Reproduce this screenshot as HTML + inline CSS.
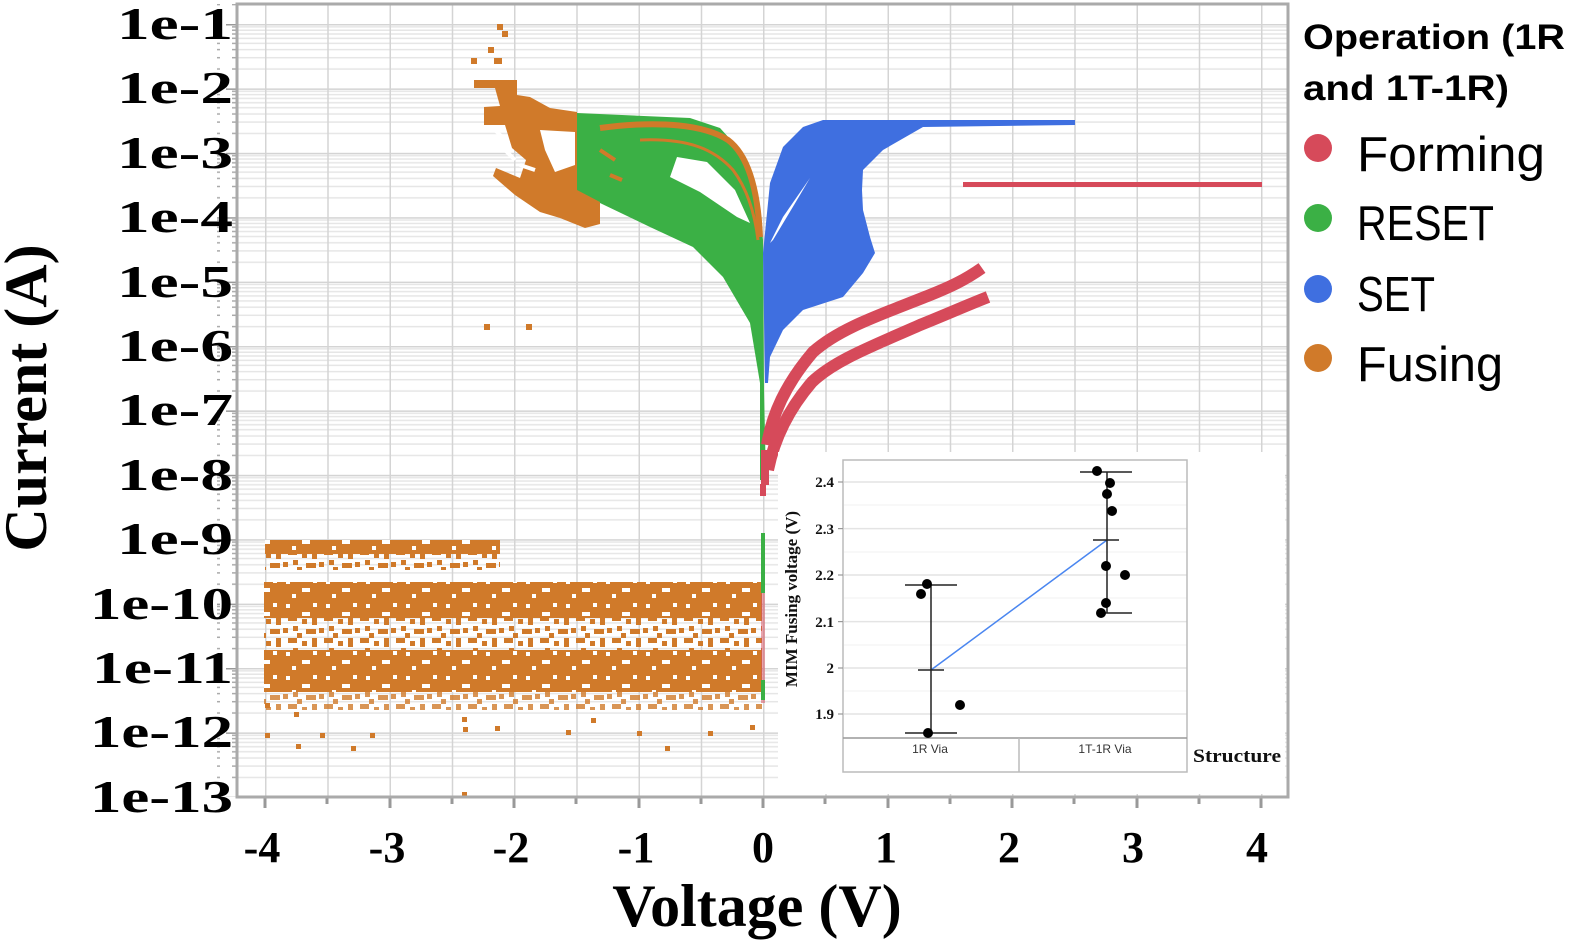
<!DOCTYPE html>
<html><head><meta charset="utf-8"><style>
html,body{margin:0;padding:0;background:#fff;}
svg{display:block;}
</style></head><body>
<svg width="1570" height="944" viewBox="0 0 1570 944" xmlns="http://www.w3.org/2000/svg">
<defs>
<pattern id="minor" x="0" y="24" width="2000" height="64.4" patternUnits="userSpaceOnUse">
<g stroke="#e6e6e6" stroke-width="1.5">
<line x1="0" x2="2000" y1="45" y2="45"/><line x1="0" x2="2000" y1="33.7" y2="33.7"/><line x1="0" x2="2000" y1="25.6" y2="25.6"/><line x1="0" x2="2000" y1="19.4" y2="19.4"/><line x1="0" x2="2000" y1="14.3" y2="14.3"/><line x1="0" x2="2000" y1="10" y2="10"/><line x1="0" x2="2000" y1="6.2" y2="6.2"/><line x1="0" x2="2000" y1="2.9" y2="2.9"/>
</g>
<line x1="0" x2="2000" y1="0" y2="0" stroke="#d4d4d4" stroke-width="3"/>
</pattern>
<pattern id="vgrid" x="265" y="0" width="62.25" height="10" patternUnits="userSpaceOnUse">
<line x1="0" x2="0" y1="0" y2="10" stroke="#d4d4d4" stroke-width="3"/>
</pattern>
<pattern id="ltick" x="0" y="24" width="20" height="64.4" patternUnits="userSpaceOnUse">
<g stroke="#aaa" stroke-width="1.5">
<line x1="12" x2="20" y1="45" y2="45"/><line x1="12" x2="20" y1="33.7" y2="33.7"/><line x1="12" x2="20" y1="25.6" y2="25.6"/><line x1="12" x2="20" y1="19.4" y2="19.4"/><line x1="12" x2="20" y1="14.3" y2="14.3"/><line x1="12" x2="20" y1="10" y2="10"/><line x1="12" x2="20" y1="6.2" y2="6.2"/><line x1="12" x2="20" y1="2.9" y2="2.9"/>
</g>
<line x1="6" x2="20" y1="0" y2="0" stroke="#999" stroke-width="3"/>
</pattern>
<pattern id="sp" x="0" y="0" width="36" height="22" patternUnits="userSpaceOnUse">
<g fill="#d07a2a">
<rect x="0" y="0" width="9" height="5"/><rect x="14" y="3" width="5" height="5"/><rect x="24" y="0" width="5" height="9"/><rect x="5" y="10" width="5" height="5"/><rect x="18" y="13" width="10" height="5"/><rect x="31" y="12" width="5" height="5"/><rect x="9" y="17" width="5" height="5"/>
</g>
</pattern>
<pattern id="dn" x="0" y="0" width="40" height="24" patternUnits="userSpaceOnUse">
<rect width="40" height="24" fill="#d07a2a"/>
<g fill="#fff"><rect x="6" y="4" width="4" height="4"/><rect x="22" y="12" width="8" height="4"/><rect x="33" y="3" width="4" height="4"/><rect x="12" y="18" width="4" height="4"/></g>
</pattern>
</defs>

<!-- grid -->
<rect x="237" y="4" width="1051" height="793" fill="url(#minor)"/>
<rect x="237" y="4" width="1051" height="793" fill="url(#vgrid)"/>
<rect x="217" y="4" width="20" height="793" fill="url(#ltick)"/>
<g stroke="#999" stroke-width="3">
<line x1="265" x2="265" y1="797" y2="808"/><line x1="327" x2="327" y1="797" y2="804"/><line x1="390" x2="390" y1="797" y2="808"/><line x1="452" x2="452" y1="797" y2="804"/><line x1="514" x2="514" y1="797" y2="808"/><line x1="576" x2="576" y1="797" y2="804"/><line x1="639" x2="639" y1="797" y2="808"/><line x1="701" x2="701" y1="797" y2="804"/><line x1="763" x2="763" y1="797" y2="808"/><line x1="825" x2="825" y1="797" y2="804"/><line x1="888" x2="888" y1="797" y2="808"/><line x1="950" x2="950" y1="797" y2="804"/><line x1="1012" x2="1012" y1="797" y2="808"/><line x1="1074" x2="1074" y1="797" y2="804"/><line x1="1137" x2="1137" y1="797" y2="808"/><line x1="1199" x2="1199" y1="797" y2="804"/><line x1="1261" x2="1261" y1="797" y2="808"/>
</g>

<!-- Fusing bottom -->
<rect x="265" y="540" width="235" height="14" fill="url(#dn)"/>
<rect x="265" y="554" width="235" height="16" fill="url(#sp)"/>
<rect x="264" y="582" width="498" height="36" fill="url(#dn)"/>
<rect x="264" y="618" width="498" height="32" fill="url(#sp)"/>
<rect x="264" y="650" width="498" height="42" fill="url(#dn)"/>
<rect x="264" y="692" width="498" height="18" fill="url(#sp)" opacity="0.8"/>
<g fill="#d07a2a">
<rect x="265" y="703" width="5" height="5"/><rect x="294" y="712" width="5" height="5"/><rect x="265" y="733" width="5" height="5"/><rect x="296" y="744" width="5" height="5"/><rect x="320" y="733" width="5" height="5"/><rect x="351" y="746" width="5" height="5"/><rect x="370" y="733" width="5" height="5"/><rect x="462" y="717" width="5" height="5"/><rect x="463" y="727" width="5" height="5"/><rect x="495" y="726" width="5" height="5"/><rect x="566" y="730" width="5" height="5"/><rect x="591" y="718" width="5" height="5"/><rect x="637" y="731" width="5" height="5"/><rect x="665" y="746" width="5" height="5"/><rect x="708" y="731" width="5" height="5"/><rect x="750" y="725" width="5" height="5"/><rect x="462" y="792" width="5" height="5"/>
<rect x="484" y="324" width="6" height="6"/><rect x="526" y="324" width="6" height="6"/>
</g>
<rect x="761" y="533" width="4" height="60" fill="#3bb045"/>
<rect x="761" y="593" width="4" height="110" fill="#d64a5a" opacity="0.5"/>
<rect x="761" y="680" width="4" height="20" fill="#3bb045"/>

<!-- Green RESET -->
<path d="M577,113 L690,118 L720,128 L740,150 L753,177 L760,210 L763,240 L764,390 L766,480 L760,480 L760,383 L750,323 L723,277 L693,247 L650,227 L600,203 L577,192 Z" fill="#3bb045"/>
<path d="M670,177 L677,157 L707,162 L735,190 L750,223 L737,217 L700,192 Z" fill="#fff"/>
<!-- orange top-left cluster -->
<path d="M474,80 L517,80 L517,95 L530,97 L550,108 L577,112 L577,190 L600,202 L600,224 L585,228 L560,218 L540,212 L515,195 L493,176 L496,168 L520,178 L526,160 L512,148 L505,125 L484,125 L484,107 L500,106 L495,88 L474,88 Z" fill="#d07a2a"/>
<path d="M540,130 L575,132 L575,165 L555,172 L545,150 Z" fill="#fff"/>
<path d="M505,150 L515,160 M520,165 L535,170 M495,130 L505,140" stroke="#fff" stroke-width="4"/>
<g fill="#d07a2a">
<rect x="497" y="24" width="6" height="6"/><rect x="502" y="31" width="6" height="6"/><rect x="488" y="47" width="6" height="6"/><rect x="471" y="58" width="6" height="6"/><rect x="494" y="58" width="8" height="6"/>
</g>
<path d="M600,128 C660,120 705,125 728,140 C748,155 758,190 760,237" fill="none" stroke="#d07a2a" stroke-width="6"/>
<path d="M640,140 C690,138 715,150 733,170 C748,190 755,215 758,240" fill="none" stroke="#d07a2a" stroke-width="3"/>
<path d="M600,150 L615,160 M610,175 L622,180" stroke="#d07a2a" stroke-width="4"/>

<!-- Blue SET -->
<path d="M763,253 L770,183 L783,147 L803,127 L823,120 L1075,120 L1075,125 L923,127 L883,150 L863,170 L862,190 L863,210 L870,237 L875,253 L863,273 L843,297 L803,310 L783,330 L770,357 L768,383 L765,383 Z" fill="#3f6fe0"/>
<path d="M770,243 L783,217 L810,178 L797,200 L773,240 Z" fill="#fff"/>

<!-- Red forming -->
<path d="M767,445 C772,415 785,385 813,352 C840,328 880,315 930,295 C950,287 965,280 982,268" fill="none" stroke="#d64a5a" stroke-width="12"/>
<path d="M768,470 C774,440 788,410 812,382 C835,360 875,345 920,325 C945,315 965,306 988,297" fill="none" stroke="#d64a5a" stroke-width="12"/>
<rect x="761" y="450" width="8" height="35" fill="#d64a5a"/>
<rect x="760" y="484" width="6" height="12" fill="#d64a5a"/>
<rect x="963" y="182" width="299" height="5" fill="#d64a5a"/>

<!-- frame -->
<rect x="237" y="4" width="1051" height="793" fill="none" stroke="#aaa" stroke-width="3"/>

<!-- inset -->
<rect x="778" y="452" width="507" height="342" fill="#fff"/>
<g stroke="#e4e4e4" stroke-width="1.5">
<line x1="844" x2="1187" y1="482" y2="482"/><line x1="844" x2="1187" y1="528.6" y2="528.6"/><line x1="844" x2="1187" y1="575" y2="575"/><line x1="844" x2="1187" y1="621.6" y2="621.6"/><line x1="844" x2="1187" y1="668" y2="668"/><line x1="844" x2="1187" y1="714" y2="714"/>
</g>
<g stroke="#f0f0f0" stroke-width="1">
<line x1="844" x2="1187" y1="505" y2="505"/><line x1="844" x2="1187" y1="552" y2="552"/><line x1="844" x2="1187" y1="598" y2="598"/><line x1="844" x2="1187" y1="645" y2="645"/><line x1="844" x2="1187" y1="691" y2="691"/>
</g>
<rect x="843" y="460" width="344" height="312" fill="none" stroke="#bbb" stroke-width="1.5"/>
<line x1="843" x2="1187" y1="738" y2="738" stroke="#999" stroke-width="1.5"/>
<line x1="1019" x2="1019" y1="738" y2="772" stroke="#bbb" stroke-width="1.5"/>
<g stroke="#999" stroke-width="1.2">
<line x1="838" x2="843" y1="482" y2="482"/><line x1="838" x2="843" y1="528.6" y2="528.6"/><line x1="838" x2="843" y1="575" y2="575"/><line x1="838" x2="843" y1="621.6" y2="621.6"/><line x1="838" x2="843" y1="668" y2="668"/><line x1="838" x2="843" y1="714" y2="714"/>
</g>
<g font-family="Liberation Serif, serif" font-weight="bold" font-size="15" text-anchor="end" fill="#111">
<text x="834" y="487">2.4</text><text x="834" y="534">2.3</text><text x="834" y="580">2.2</text><text x="834" y="627">2.1</text><text x="834" y="673">2</text><text x="834" y="719">1.9</text>
</g>
<text transform="translate(797,599) rotate(-90)" font-family="Liberation Serif, serif" font-weight="bold" font-size="17" text-anchor="middle" fill="#111">MIM Fusing voltage (V)</text>
<g font-family="Liberation Sans, sans-serif" font-size="12" text-anchor="middle" fill="#333">
<text x="930" y="753">1R Via</text><text x="1105" y="753">1T-1R Via</text>
</g>
<text x="1193" y="762" font-family="Liberation Serif, serif" font-weight="bold" font-size="19" fill="#111" textLength="88" lengthAdjust="spacingAndGlyphs">Structure</text>
<line x1="931" y1="670" x2="1107" y2="540" stroke="#4a86f0" stroke-width="1.5"/>
<g stroke="#222" stroke-width="1.5">
<line x1="931" x2="931" y1="585" y2="733"/><line x1="905" x2="957" y1="585" y2="585"/><line x1="918" x2="944" y1="670" y2="670"/><line x1="905" x2="957" y1="733" y2="733"/>
<line x1="1107" x2="1107" y1="472" y2="613"/><line x1="1080" x2="1132" y1="472" y2="472"/><line x1="1093" x2="1119" y1="540" y2="540"/><line x1="1098" x2="1132" y1="613" y2="613"/>
</g>
<g fill="#000">
<circle cx="921" cy="594" r="5"/><circle cx="927" cy="584" r="5"/><circle cx="928" cy="733" r="5"/><circle cx="960" cy="705" r="5"/>
<circle cx="1097" cy="471" r="5"/><circle cx="1110" cy="483" r="5"/><circle cx="1107" cy="494" r="5"/><circle cx="1112" cy="511" r="5"/><circle cx="1106" cy="566" r="5"/><circle cx="1125" cy="575" r="5"/><circle cx="1106" cy="603" r="5"/><circle cx="1101" cy="613" r="5"/>
</g>

<!-- axis labels -->
<g font-family="Liberation Serif, serif" font-weight="bold" font-size="46" fill="#000" lengthAdjust="spacingAndGlyphs">
<text x="117" y="39" textLength="116" lengthAdjust="spacingAndGlyphs">1e-1</text>
<text x="117" y="103" textLength="116" lengthAdjust="spacingAndGlyphs">1e-2</text>
<text x="117" y="168" textLength="116" lengthAdjust="spacingAndGlyphs">1e-3</text>
<text x="117" y="232" textLength="116" lengthAdjust="spacingAndGlyphs">1e-4</text>
<text x="117" y="297" textLength="116" lengthAdjust="spacingAndGlyphs">1e-5</text>
<text x="117" y="361" textLength="116" lengthAdjust="spacingAndGlyphs">1e-6</text>
<text x="117" y="425" textLength="116" lengthAdjust="spacingAndGlyphs">1e-7</text>
<text x="117" y="490" textLength="116" lengthAdjust="spacingAndGlyphs">1e-8</text>
<text x="117" y="554" textLength="116" lengthAdjust="spacingAndGlyphs">1e-9</text>
<text x="90" y="619" textLength="143" lengthAdjust="spacingAndGlyphs">1e-10</text>
<text x="92" y="683" textLength="141" lengthAdjust="spacingAndGlyphs">1e-11</text>
<text x="90" y="747" textLength="143" lengthAdjust="spacingAndGlyphs">1e-12</text>
<text x="90" y="812" textLength="143" lengthAdjust="spacingAndGlyphs">1e-13</text>
</g>
<g font-family="Liberation Serif, serif" font-weight="bold" font-size="44" text-anchor="middle" fill="#000">
<text x="262" y="862">-4</text><text x="387" y="862">-3</text><text x="511" y="862">-2</text><text x="636" y="862">-1</text><text x="763" y="862">0</text><text x="886" y="862">1</text><text x="1009" y="862">2</text><text x="1133" y="862">3</text><text x="1257" y="862">4</text>
</g>
<text x="757" y="926" font-family="Liberation Serif, serif" font-weight="bold" font-size="60" text-anchor="middle" fill="#000">Voltage (V)</text>
<text transform="translate(46,398) rotate(-90)" font-family="Liberation Serif, serif" font-weight="bold" font-size="60" text-anchor="middle" fill="#000">Current (A)</text>

<!-- legend -->
<g font-family="Liberation Sans, sans-serif" fill="#000">
<text x="1303" y="49" font-weight="bold" font-size="35" textLength="262" lengthAdjust="spacingAndGlyphs">Operation (1R</text>
<text x="1303" y="100" font-weight="bold" font-size="35" textLength="206" lengthAdjust="spacingAndGlyphs">and 1T-1R)</text>
<circle cx="1318" cy="148" r="14" fill="#d64a5a"/><text x="1357" y="171" font-size="49" textLength="188" lengthAdjust="spacingAndGlyphs">Forming</text>
<circle cx="1318" cy="218" r="14" fill="#3bb045"/><text x="1357" y="240" font-size="49" textLength="137" lengthAdjust="spacingAndGlyphs">RESET</text>
<circle cx="1318" cy="289" r="14" fill="#3f6fe0"/><text x="1357" y="311" font-size="49" textLength="78" lengthAdjust="spacingAndGlyphs">SET</text>
<circle cx="1318" cy="358" r="14" fill="#d07a2a"/><text x="1357" y="381" font-size="49" textLength="146" lengthAdjust="spacingAndGlyphs">Fusing</text>
</g>
</svg>
</body></html>
